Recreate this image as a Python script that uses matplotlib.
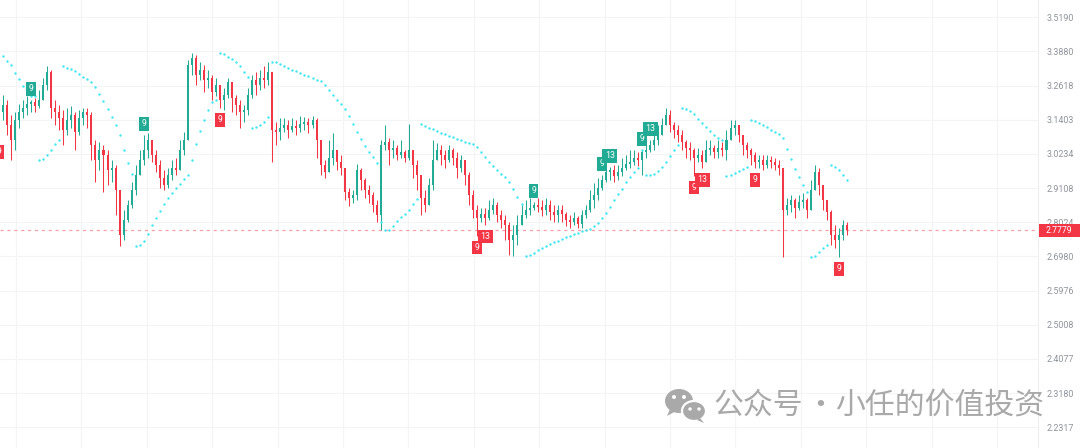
import numpy as np
import matplotlib
matplotlib.use("Agg")
import matplotlib.pyplot as plt
from matplotlib.patches import Rectangle, Ellipse, Polygon
from matplotlib.ticker import FixedLocator, FixedFormatter, NullLocator

# ---------------- data ----------------
first_open = 3.150
close = [3.167, 3.192, 3.122, 3.070, 3.139, 3.167, 3.181, 3.195, 3.202, 3.188,
         3.209, 3.263, 3.311, 3.181, 3.167, 3.146, 3.104, 3.139, 3.156, 3.097,
         3.146, 3.167, 3.156, 3.053, 3.003, 3.036, 3.019, 2.969, 2.976, 2.904,
         2.763, 2.809, 2.856, 2.904, 2.953, 3.003, 3.036, 3.070, 3.019, 2.986,
         2.943, 2.920, 2.953, 2.976, 2.969, 3.036, 3.070, 3.336, 3.363, 3.300,
         3.318, 3.281, 3.289, 3.238, 3.263, 3.209, 3.227, 3.274, 3.216, 3.192,
         3.167, 3.174, 3.227, 3.281, 3.263, 3.289, 3.281, 3.311, 3.104, 3.097,
         3.111, 3.122, 3.104, 3.118, 3.111, 3.125, 3.132, 3.122, 3.139, 3.070,
         2.986, 2.963, 3.009, 3.036, 2.996, 2.976, 2.898, 2.878, 2.888, 2.969,
         2.937, 2.904, 2.888, 2.856, 2.825, 3.053, 3.063, 3.036, 3.043, 3.019,
         3.029, 3.009, 3.036, 2.986, 2.953, 2.878, 2.856, 2.920, 3.003, 3.036,
         3.019, 3.003, 3.036, 3.009, 2.976, 3.003, 2.953, 2.888, 2.840, 2.815,
         2.828, 2.815, 2.840, 2.856, 2.825, 2.809, 2.794, 2.747, 2.763, 2.794,
         2.825, 2.840, 2.847, 2.856, 2.850, 2.840, 2.856, 2.834, 2.825, 2.840,
         2.828, 2.809, 2.803, 2.815, 2.797, 2.825, 2.840, 2.872, 2.888, 2.911,
         2.937, 2.963, 2.969, 2.950, 2.963, 2.976, 2.989, 2.996, 3.009, 3.003,
         3.029, 3.036, 3.053, 3.070, 3.087, 3.122, 3.156, 3.122, 3.104, 3.087,
         3.063, 3.043, 3.036, 3.009, 3.019, 2.996, 3.036, 3.043, 3.029, 3.043,
         3.036, 3.070, 3.111, 3.122, 3.087, 3.053, 3.036, 3.019, 2.996, 3.003,
         2.986, 3.003, 2.996, 2.986, 2.976, 2.840, 2.856, 2.872, 2.847, 2.866,
         2.872, 2.840, 2.904, 2.963, 2.920, 2.872, 2.834, 2.763, 2.747, 2.763,
         2.794, 2.7779]
high = [3.238, 3.227, 3.209, 3.156, 3.167, 3.195, 3.209, 3.224, 3.209, 3.216,
        3.245, 3.289, 3.333, 3.318, 3.209, 3.192, 3.174, 3.181, 3.188, 3.167,
        3.174, 3.181, 3.181, 3.167, 3.070, 3.063, 3.053, 3.036, 3.003, 2.986,
        2.904, 2.840, 2.872, 2.930, 2.986, 3.036, 3.087, 3.094, 3.070, 3.036,
        3.003, 2.969, 2.976, 3.003, 3.009, 3.070, 3.097, 3.355, 3.381, 3.374,
        3.348, 3.336, 3.318, 3.300, 3.289, 3.263, 3.252, 3.289, 3.263, 3.227,
        3.209, 3.192, 3.252, 3.300, 3.311, 3.318, 3.333, 3.348, 3.300, 3.132,
        3.146, 3.146, 3.139, 3.146, 3.139, 3.153, 3.149, 3.146, 3.153, 3.146,
        3.053, 3.003, 3.070, 3.094, 3.036, 3.019, 2.969, 2.911, 2.904, 2.989,
        2.976, 2.943, 2.920, 2.898, 2.872, 3.070, 3.122, 3.077, 3.070, 3.053,
        3.070, 3.036, 3.125, 3.036, 3.003, 2.953, 2.904, 2.943, 3.070, 3.060,
        3.053, 3.036, 3.053, 3.043, 3.029, 3.019, 3.003, 2.963, 2.904, 2.856,
        2.847, 2.847, 2.872, 2.878, 2.866, 2.840, 2.825, 2.803, 2.794, 2.825,
        2.856, 2.872, 2.878, 2.866, 2.878, 2.872, 2.878, 2.872, 2.856, 2.856,
        2.856, 2.834, 2.825, 2.834, 2.822, 2.840, 2.856, 2.904, 2.927, 2.943,
        2.953, 2.976, 2.979, 2.986, 2.986, 3.009, 3.019, 3.036, 3.036, 3.029,
        3.036, 3.053, 3.070, 3.104, 3.122, 3.146, 3.181, 3.174, 3.132, 3.122,
        3.104, 3.070, 3.063, 3.043, 3.043, 3.036, 3.070, 3.070, 3.053, 3.070,
        3.063, 3.104, 3.139, 3.139, 3.122, 3.087, 3.063, 3.043, 3.029, 3.019,
        3.019, 3.019, 3.016, 3.009, 3.003, 2.976, 2.878, 2.888, 2.878, 2.888,
        2.894, 2.878, 2.937, 2.986, 2.976, 2.920, 2.872, 2.840, 2.794, 2.784,
        2.809, 2.803]
low = [3.070, 3.139, 3.087, 3.003, 3.036, 3.111, 3.146, 3.156, 3.167, 3.167,
       3.181, 3.209, 3.245, 3.146, 3.122, 3.104, 3.053, 3.087, 3.111, 3.036,
       3.087, 3.122, 3.111, 3.003, 2.930, 2.969, 2.898, 2.920, 2.930, 2.825,
       2.729, 2.747, 2.803, 2.847, 2.888, 2.953, 2.986, 3.009, 2.996, 2.963,
       2.911, 2.904, 2.911, 2.937, 2.953, 2.969, 3.019, 3.070, 3.300, 3.263,
       3.281, 3.238, 3.252, 3.209, 3.224, 3.181, 3.174, 3.216, 3.167, 3.156,
       3.111, 3.132, 3.156, 3.216, 3.227, 3.245, 3.252, 3.263, 2.996, 3.053,
       3.070, 3.097, 3.077, 3.097, 3.087, 3.097, 3.104, 3.094, 3.111, 3.009,
       2.953, 2.943, 2.963, 2.986, 2.969, 2.953, 2.872, 2.853, 2.862, 2.872,
       2.904, 2.878, 2.862, 2.834, 2.803, 2.778, 3.036, 2.986, 3.009, 3.003,
       3.009, 2.996, 3.003, 2.943, 2.904, 2.825, 2.834, 2.856, 2.904, 3.003,
       2.986, 2.976, 2.996, 2.986, 2.943, 2.963, 2.920, 2.856, 2.815, 2.760,
       2.803, 2.794, 2.809, 2.828, 2.803, 2.784, 2.747, 2.702, 2.699, 2.732,
       2.794, 2.815, 2.825, 2.840, 2.834, 2.822, 2.825, 2.809, 2.803, 2.803,
       2.803, 2.790, 2.784, 2.794, 2.784, 2.784, 2.815, 2.834, 2.847, 2.872,
       2.904, 2.930, 2.937, 2.930, 2.937, 2.950, 2.969, 2.976, 2.986, 2.983,
       2.953, 3.009, 3.029, 3.036, 3.053, 3.087, 3.122, 3.097, 3.077, 3.063,
       3.036, 3.009, 3.003, 2.950, 2.996, 2.976, 3.003, 3.019, 3.009, 3.009,
       3.016, 3.003, 3.070, 3.087, 3.063, 3.019, 3.009, 2.986, 2.976, 2.976,
       2.969, 2.976, 2.976, 2.969, 2.953, 2.696, 2.825, 2.834, 2.815, 2.840,
       2.847, 2.815, 2.872, 2.904, 2.888, 2.840, 2.809, 2.732, 2.723, 2.696,
       2.747, 2.763]
last_price = 2.7779
price_ticks = [3.5190, 3.3880, 3.2618, 3.1403, 3.0234, 2.9108, 2.8024,
               2.6980, 2.5976, 2.5008, 2.4077, 2.3180, 2.2317]
td_up_labels = {8: "9", 36: "9", 133: "9", 150: "9", 152: "13", 160: "9", 162: "13"}
td_down_labels = {0: "9", 55: "9", 119: "9", 121: "13", 173: "9", 175: "13", 188: "9", 209: "9"}
watermark_parts = ["公众号", "·", "小任的价值投资"]

# ---------------- derived ----------------
c = np.array(close)
o = np.array([first_open] + close[:-1])
h = np.maximum(np.array(high), np.maximum(o, c))
l = np.minimum(np.array(low), np.minimum(o, c))
n = len(c)
idx = np.arange(n)

# Parabolic SAR (0.02, 0.02, 0.2)
sar = np.zeros(n)
trend = -1
sar[0] = 3.39
ep = l[0]
af = 0.06
cur = sar[0]
for i in range(1, n):
    cur = cur + af * (ep - cur)
    if trend == 1:
        cur = min(cur, l[i - 1], l[max(i - 2, 0)])
        if l[i] < cur:
            trend = -1
            cur = ep
            ep = l[i]
            af = 0.02
        elif h[i] > ep:
            ep = h[i]
            af = min(af + 0.02, 0.2)
    else:
        cur = max(cur, h[i - 1], h[max(i - 2, 0)])
        if h[i] > cur:
            trend = 1
            cur = ep
            ep = h[i]
            af = 0.02
        elif l[i] < ep:
            ep = l[i]
            af = min(af + 0.02, 0.2)
    sar[i] = cur
sar[0] = np.nan

# ---------------- figure ----------------
GREEN = "#22ab94"
RED = "#f23645"
W, H = 1080, 448
fig = plt.figure(figsize=(W / 100, H / 100), dpi=100)
fig.patch.set_facecolor("white")
ax = fig.add_axes([0, 0, 1038 / W, 1])
ax.set_yscale("log")
ax.set_ylim(2.1810, 3.5873)
ax.set_xlim(0.25, 258.5)

up = c >= o
cols = np.where(up, GREEN, RED)
ax.vlines(idx, l, h, colors=cols, linewidth=0.75, zorder=3)
body_bottom = np.minimum(o, c)
body_h = np.maximum(np.abs(c - o), 0.002)
ax.bar(idx, body_h, bottom=body_bottom, width=0.5, color=cols, linewidth=0, zorder=3)

ax.scatter(idx, sar, s=3.0, color="#3ee6f2", linewidths=0, zorder=4)

# TD labels
for i, t in td_up_labels.items():
    ax.annotate(t, xy=(i, h[i]), xytext=(0, 5), textcoords="offset points",
                ha="center", va="bottom", fontsize=6.3, color="white", family="Roboto",
                annotation_clip=False,
                bbox=dict(boxstyle="square,pad=0.28", fc=GREEN, ec="none"), zorder=6)
for i, t in td_down_labels.items():
    ax.annotate(t, xy=(i, l[i]), xytext=(0, -5), textcoords="offset points",
                ha="center", va="top", fontsize=6.3, color="white", family="Roboto",
                annotation_clip=False,
                bbox=dict(boxstyle="square,pad=0.28", fc=RED, ec="none"), zorder=6)

# last price line
ax.axhline(last_price, color="#f5a0a8", linewidth=0.9, dashes=(2.5, 3), zorder=2)

# axes styling
ax.yaxis.tick_right()
ax.yaxis.set_major_locator(FixedLocator(price_ticks))
ax.yaxis.set_major_formatter(FixedFormatter(["%.4f" % v for v in price_ticks]))
ax.yaxis.set_minor_locator(NullLocator())
ax.tick_params(axis="y", length=0, pad=6, labelsize=6.4, labelcolor="#8f929b")
for lab in ax.get_yticklabels():
    lab.set_family("Roboto")
vgrid = [4.23 + 16.27 * k for k in range(16)]
ax.set_xticks(vgrid)
ax.tick_params(axis="x", length=0, labelbottom=False)
ax.grid(True, color="#f3f4f6", linewidth=0.8, zorder=0)
for s in ["top", "left", "bottom"]:
    ax.spines[s].set_visible(False)
ax.spines["right"].set_color("#eeeeee")
ax.spines["right"].set_linewidth(0.8)

# overlay in pixel coordinates for price tag and watermark
ov = fig.add_axes([0, 0, 1, 1], zorder=10)
ov.set_xlim(0, W)
ov.set_ylim(H, 0)
ov.axis("off")
ov.patch.set_alpha(0)

fig.canvas.draw()
yd = ax.transData.transform((1, last_price))[1]
ypix = H - yd
ov.add_patch(Rectangle((1039, ypix - 6.5), 41, 13, fc=RED, ec="none"))
ov.text(1046, ypix, "%.4f" % last_price, color="white", fontsize=6.2, family="Roboto",
        ha="left", va="center")

# watermark: wechat-like icon + text
gray = "#a9a9a9"
ov.add_patch(Ellipse((679, 401), 28, 24, fc=gray, ec="none"))
ov.add_patch(Polygon([[670, 409], [667, 416], [676, 411]], closed=True, fc=gray, ec="none"))
ov.add_patch(Ellipse((694, 411), 24, 20, fc=gray, ec="white", lw=1.6))
ov.add_patch(Polygon([[700, 418], [704, 423], [697, 420]], closed=True, fc=gray, ec="none"))
for (ex, ey, r) in [(674, 397, 2.0), (684, 397, 2.0), (690, 409, 1.7), (699, 409, 1.7)]:
    ov.add_patch(Ellipse((ex, ey), 2 * r, 2 * r, fc="white", ec="none"))
wm_font = ["Noto Sans CJK SC", "DejaVu Sans"]
ov.text(713, 405, watermark_parts[0], fontsize=21.5, color=gray, ha="left", va="center", family=wm_font)
ov.text(820, 405, watermark_parts[1], fontsize=21.5, color=gray, ha="center", va="center", family=wm_font)
ov.text(835, 405, watermark_parts[2], fontsize=21.5, color=gray, ha="left", va="center", family=wm_font)

fig.savefig("out.png", dpi=100, facecolor="white")
